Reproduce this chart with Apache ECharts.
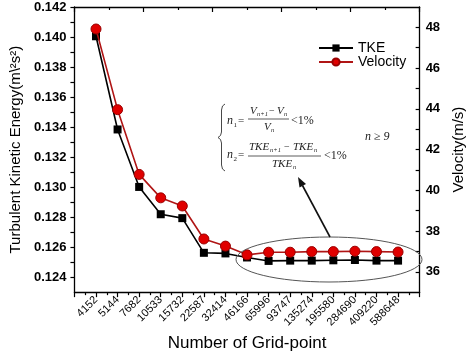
<!DOCTYPE html>
<html><head><meta charset="utf-8">
<script src="https://cdn.jsdelivr.net/npm/echarts@6/dist/echarts.min.js"></script>
<style>html,body{margin:0;padding:0;background:#fff}#c{width:474px;height:357px}</style>
</head><body><div id="c"></div>
<script>
const categories = ['4152','5144','7682','10533','15732','22587','32414','46166','65996','93747','135274','195580','284690','409220','588648'];
const tke = [0.14005,0.13384,0.13001,0.12819,0.12793,0.12562,0.12558,0.12531,0.12508,0.12510,0.12510,0.12512,0.12514,0.12510,0.12510];
const velocity = [47.92,43.96,40.78,39.63,39.23,37.61,37.26,36.83,36.96,36.96,36.99,36.99,37.01,36.99,36.97];
const leftTicks = [0.124,0.126,0.128,0.130,0.132,0.134,0.136,0.138,0.140,0.142];
const leftMinor = [0.125,0.127,0.129,0.131,0.133,0.135,0.137,0.139,0.141];
const rightTicks = [36,38,40,42,44,46,48];
const rightMinor = [37,39,41,43,45,47];

const SANS = 'Liberation Sans';
const SERIF = 'Liberation Serif';
const chart = echarts.init(document.getElementById('c'), null, {renderer:'canvas'});

function tx(x, y, s, size, italic, extra) {
  return Object.assign({type:'text', x:x, y:y, z:50, style:{text:s, fontFamily:SERIF, fontSize:size,
    fontStyle: italic ? 'italic' : 'normal', fill:'#222', verticalAlign:'middle', align:'left'}}, extra||{});
}
const annot = [];
annot.push({type:'polyline', z:50, shape:{points:[[225,104],[222.5,106],[221.5,110],[221.5,132],[220.5,135.5],[218,137.5],[220.5,139.5],[221.5,143],[221.5,165],[222.5,169],[225,171]]}, style:{stroke:'#333', lineWidth:0.9, fill:null}});
annot.push(tx(227,121,'n',12,true));
annot.push(tx(233.5,125,'1',7,false));
annot.push(tx(238,121,'=',11,false));
annot.push(tx(250,111,'V',11,true));
annot.push(tx(257,114.5,'n+1',6.5,true));
annot.push(tx(269,111,'\u2212',10,false));
annot.push(tx(277,111,'V',11,true));
annot.push(tx(284,114.5,'n',6.5,true));
annot.push({type:'line', z:50, shape:{x1:248,y1:119,x2:289,y2:119}, style:{stroke:'#333', lineWidth:0.8}});
annot.push(tx(264,127,'V',11,true));
annot.push(tx(271,130.5,'n',6.5,true));
annot.push(tx(291,121,'<1%',12,false));
annot.push(tx(227,155,'n',12,true));
annot.push(tx(233.5,159.5,'2',7,false));
annot.push(tx(238,155,'=',11,false));
annot.push(tx(249,147,'TKE',11,true));
annot.push(tx(270,150.5,'n+1',6.5,true));
annot.push(tx(284,147,'\u2212',10,false));
annot.push(tx(293,147,'TKE',11,true));
annot.push(tx(314,150.5,'n',6.5,true));
annot.push({type:'line', z:50, shape:{x1:248,y1:156,x2:321,y2:156}, style:{stroke:'#333', lineWidth:0.8}});
annot.push(tx(272,164,'TKE',11,true));
annot.push(tx(293,167.5,'n',6.5,true));
annot.push(tx(324,156,'<1%',12,false));
annot.push(tx(365,137,'n \u2265 9',12,true));
annot.push({type:'ellipse', z:40, shape:{cx:329, cy:259.5, rx:93, ry:22.5}, style:{stroke:'#555', lineWidth:1, fill:null}});
annot.push({type:'line', z:50, shape:{x1:330,y1:237,x2:302.5,y2:185.5}, style:{stroke:'#111', lineWidth:1.6}});
annot.push({type:'polygon', z:50, shape:{points:[[298,177],[306,184],[299.5,187.5]]}, style:{fill:'#111'}});

function line(show){ return {show:show, onZero:false, lineStyle:{color:'#000', width:1.3}}; }
const option = {
  backgroundColor:'#fff',
  animation:false,
  grid:{left:70, right:45, top:7, bottom:62, containLabel:false},
  legend:{orient:'vertical', left:313, top:36, itemGap:0, itemWidth:34, itemHeight:9,
    textStyle:{fontFamily:SANS, fontSize:14, color:'#000'}, data:['TKE','Velocity']},
  xAxis:[
    {type:'value', position:'bottom', min:0, max:16, interval:1,
     axisLine:line(true), splitLine:{show:false},
     axisTick:{show:true, length:5, lineStyle:{color:'#000', width:1.2}},
     minorTick:{show:true, splitNumber:2, length:3, lineStyle:{color:'#000', width:1.2}},
     axisLabel:{rotate:45, fontFamily:SANS, fontSize:11, color:'#000', margin:6,
       formatter:function(v){ const i=Math.round(v)-1; return (i>=0 && i<categories.length && Math.abs(v-1-i)<1e-6) ? categories[i] : ''; }},
     name:'Number of Grid-point', nameLocation:'middle', nameGap:40,
     nameTextStyle:{fontFamily:SANS, fontSize:17, color:'#000'}},
    {type:'value', position:'top', min:0, max:10, interval:2,
     axisLine:line(true), splitLine:{show:false},
     axisTick:{show:true, inside:true, length:5, lineStyle:{color:'#000', width:1.2}},
     minorTick:{show:true, splitNumber:2, length:3, lineStyle:{color:'#000', width:1.2}},
     axisLabel:{show:false}}
  ],
  yAxis:[
    {type:'value', position:'left', min:0.123, max:0.142,
     axisLine:line(true), splitLine:{show:false},
     axisTick:{show:true, length:4, customValues:leftTicks.concat(leftMinor), lineStyle:{color:'#000', width:1.2}},
     axisLabel:{customValues:leftTicks, fontFamily:SANS, fontWeight:'bold', fontSize:13, color:'#000', margin:8,
       formatter:function(v){return v.toFixed(3);}},
     name:'Turbulent Kinetic Energy(m\\\u00b2s\u00b2)', nameLocation:'middle', nameGap:51, nameRotate:90,
     nameTextStyle:{fontFamily:SANS, fontSize:15, color:'#000'}},
    {type:'value', position:'right', min:35, max:49,
     axisLine:line(true), splitLine:{show:false},
     axisTick:{show:true, inside:true, length:4, customValues:rightTicks.concat(rightMinor), lineStyle:{color:'#000', width:1.2}},
     axisLabel:{customValues:rightTicks, fontFamily:SANS, fontWeight:'bold', fontSize:13, color:'#000', margin:6},
     name:'Velocity(m/s)', nameLocation:'middle', nameGap:24, nameRotate:90,
     nameTextStyle:{fontFamily:SANS, fontSize:15, color:'#000'}}
  ],
  series:[
    {name:'Velocity', type:'line', xAxisIndex:0, yAxisIndex:1, z:3,
     data:velocity.map(function(v,i){return [i+1,v];}),
     symbol:'circle', symbolSize:10,
     lineStyle:{color:'#b01515', width:1.6},
     itemStyle:{color:'#e00000', borderColor:'#9a0000', borderWidth:1}},
    {name:'TKE', type:'line', xAxisIndex:0, yAxisIndex:0, z:2,
     data:tke.map(function(v,i){return [i+1,v];}),
     symbol:'rect', symbolSize:8,
     lineStyle:{color:'#000', width:1.6},
     itemStyle:{color:'#000'}}
  ],
  graphic:annot
};
chart.setOption(option);
</script></body></html>
